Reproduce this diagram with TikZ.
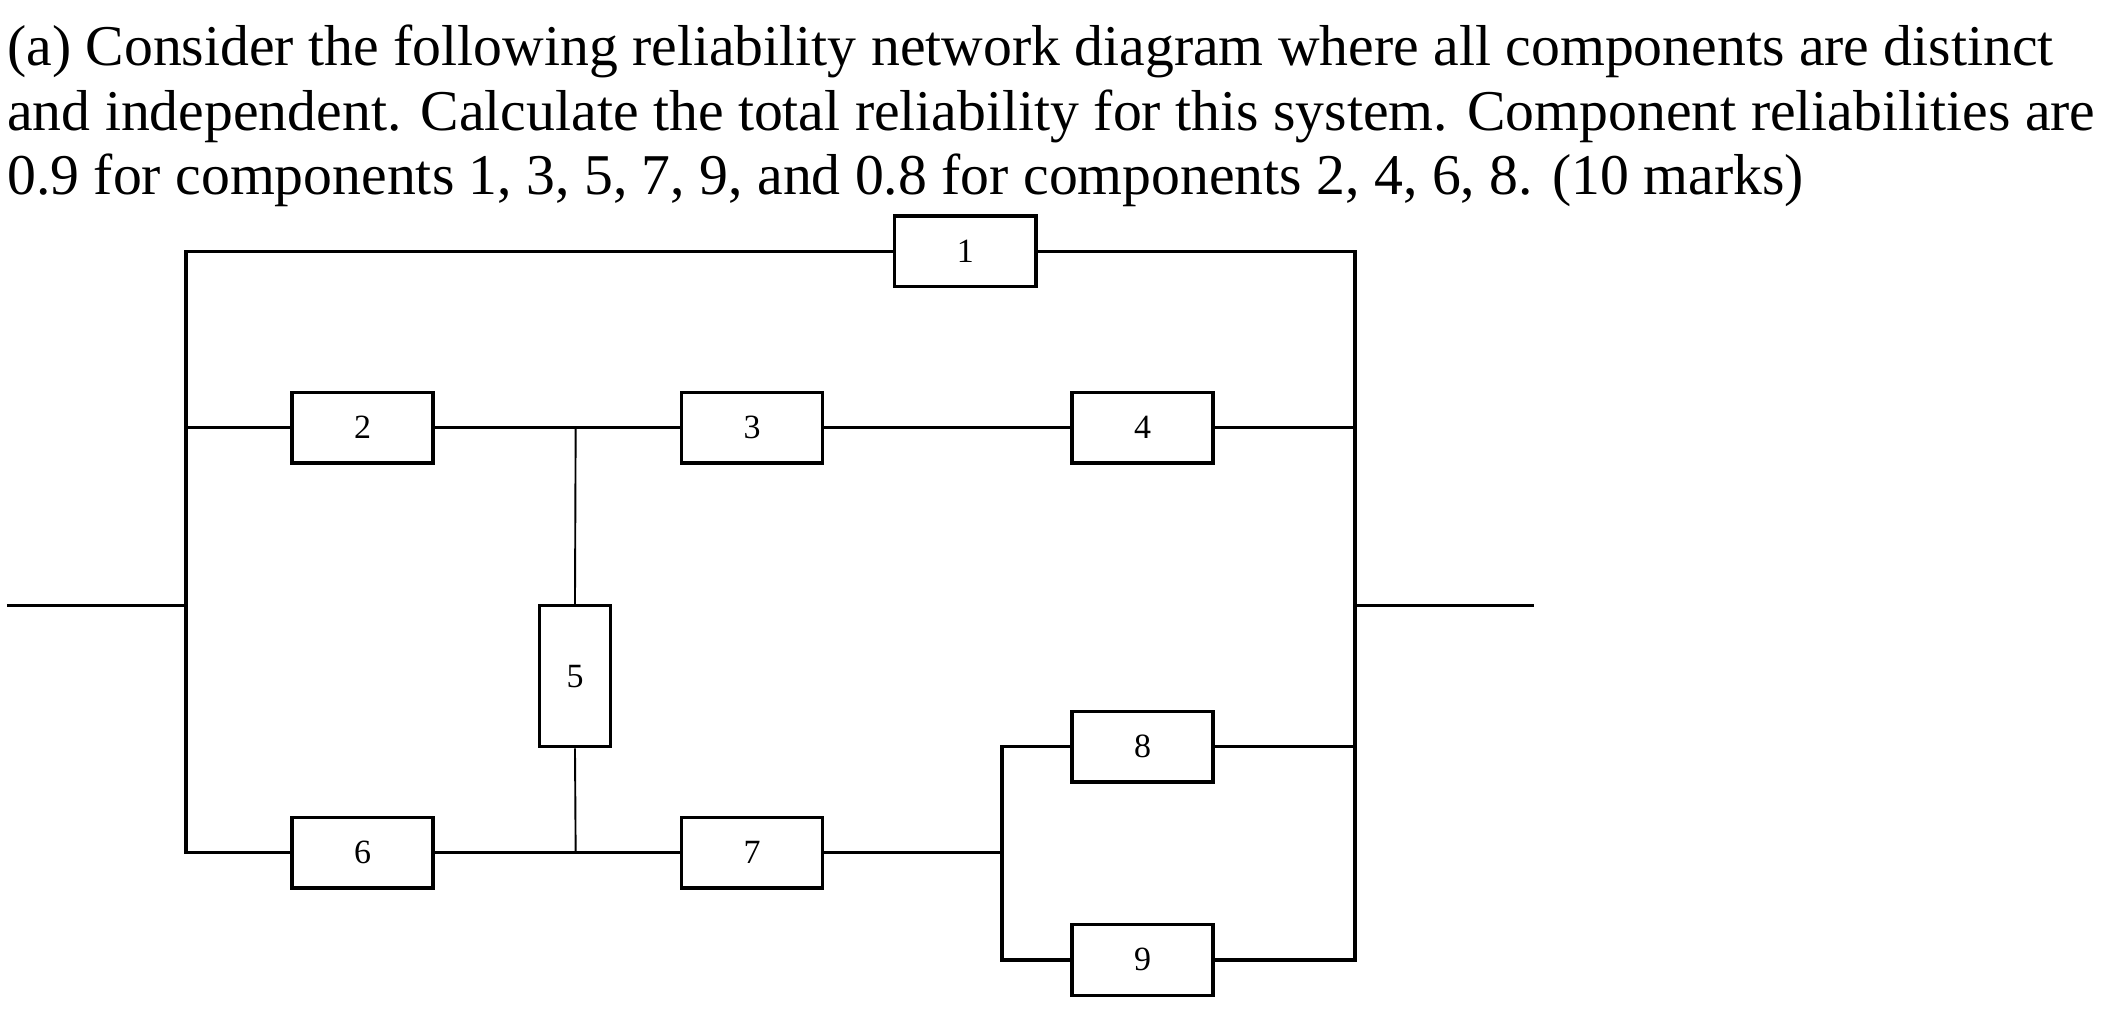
\documentclass[tikz,border=0pt]{standalone}
\usepackage{fontspec}
\setmainfont{Liberation Serif}
\begin{document}
\begin{tikzpicture}[x=0.5pt,y=-0.5pt,
  box/.style={draw,line width=1.2pt,minimum width=52pt,minimum height=26pt,inner sep=0pt,font=\fontsize{12.5}{14}\selectfont},
  vbox/.style={draw,line width=1.2pt,minimum width=26pt,minimum height=52pt,inner sep=0pt,font=\fontsize{12.5}{14}\selectfont},
  ln/.style={line width=1.2pt},
  thin/.style={line width=0.7pt},
  txt/.style={anchor=base west,inner sep=0pt,font=\fontsize{21.25}{24}\selectfont}]
\useasboundingbox (0,0) rectangle (1560,750);
\node[txt] (t1) at (5,48) {(a) Consider the following reliability network diagram where all components are distinct};
\node[txt] (t2) at (5,96) {and independent. Calculate the total reliability for this system. Component reliabilities are};
\node[txt] (t3) at (5,143) {0.9 for components 1, 3, 5, 7, 9, and 0.8 for components 2, 4, 6, 8. (10 marks)};
\node[box] (b1) at (711,185) {1};
\node[box] (b2) at (267,315) {2};
\node[box] (b3) at (554,315) {3};
\node[box] (b4) at (841.5,315) {4};
\node[vbox] (b5) at (423.5,498) {5};
\node[box] (b6) at (267,628) {6};
\node[box] (b7) at (554,628) {7};
\node[box] (b8) at (841.5,550) {8};
\node[box] (b9) at (841.5,707) {9};
\coordinate (lt) at (137,185); \coordinate (lb) at (137,628);
\coordinate (rt) at (998,185); \coordinate (rb) at (998,707);
\coordinate (in) at (5,446); \coordinate (inj) at (137,446);
\coordinate (out) at (1130,446); \coordinate (outj) at (998,446);
\coordinate (j5t) at (424,315); \coordinate (j5b) at (424,628);
\coordinate (j8) at (738,550); \coordinate (j9) at (738,707); \coordinate (j7) at (738,628);
\draw[ln] (b1.west) -- (lt) -- (lb) -- (b6.west);
\draw[ln] (b1.east) -- (rt) -- (rb) -- (b9.east);
\draw[ln] (in) -- (inj);
\draw[ln] (outj) -- (out);
\draw[ln] (137,315) -- (b2.west);
\draw[ln] (b2.east) -- (b3.west);
\draw[ln] (b3.east) -- (b4.west);
\draw[ln] (b4.east) -- (998,315);
\draw[ln] (b6.east) -- (b7.west);
\draw[ln] (b7.east) -- (j7);
\draw[ln] (b8.west) -- (j8) -- (j9) -- (b9.west);
\draw[ln] (b8.east) -- (998,550);
\draw[thin] (j5t) -- (b5.north);
\draw[thin] (b5.south) -- (j5b);
\end{tikzpicture}
\end{document}
